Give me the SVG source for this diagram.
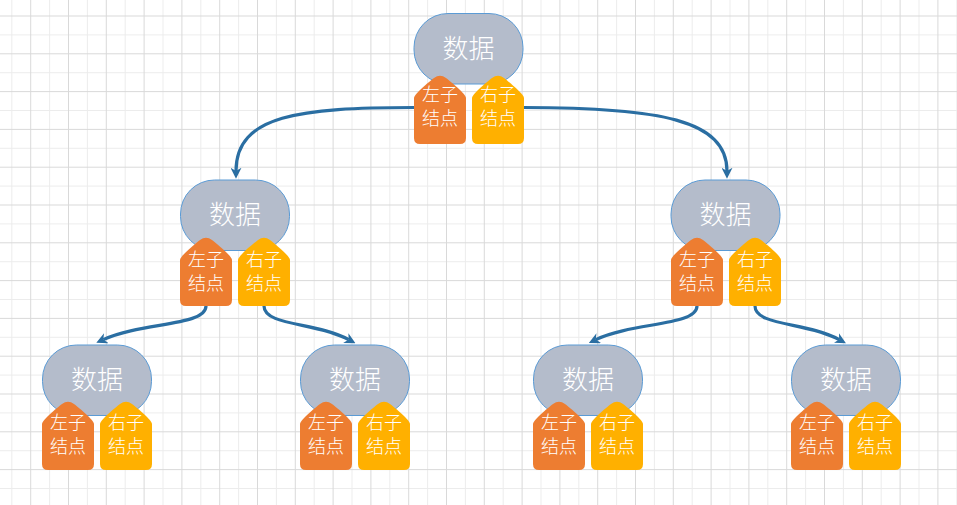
<svg xmlns="http://www.w3.org/2000/svg" xmlns:xlink="http://www.w3.org/1999/xlink" width="957" height="505" viewBox="0 0 957 505">
<style>
.pill{fill:#B4BCCB;stroke:#5B9BD5;stroke-width:1}
.lc{fill:#ED7D31}
.rc{fill:#FFB000}
.t{font-family:"Noto Sans CJK SC","Noto Sans CJK JP",sans-serif;fill:#FFFFFF;text-anchor:middle;font-weight:300}
.big{font-size:26px}
.sm{font-size:18px}
.conn{fill:none;stroke:#2A6EA2;stroke-width:3.2;marker-end:url(#arr)}
</style>
<defs>
<pattern id="grid" x="11.3" y="-3.4" width="37.8" height="37.8" patternUnits="userSpaceOnUse">
<rect x="0" y="0" width="1" height="37.8" fill="#ECECEC"/>
<rect x="0" y="0" width="37.8" height="1" fill="#ECECEC"/>
<rect x="18.9" y="0" width="1" height="37.8" fill="#D9D9D9"/>
<rect x="0" y="18.9" width="37.8" height="1" fill="#D9D9D9"/>
</pattern>
<marker id="arr" viewBox="0 0 10 10" refX="3" refY="5" markerWidth="11" markerHeight="11" orient="auto" markerUnits="userSpaceOnUse">
<path d="M0,0 L10,5 L0,10 L3,5 Z" fill="#2A6EA2"/>
</marker>
<path id="tab" d="M0 23 C0 19 15 7 20 3 Q26 -1.5 32 3 C37 7 52 19 52 23 L52 63 Q52 69 46 69 L6 69 Q0 69 0 63 Z"/>
</defs>
<rect width="957" height="505" fill="#FFFFFF"/>
<rect width="957" height="505" fill="url(#grid)"/>

<g id="connectors">
<path class="conn" d="M414 107.5 C300 107.5 236 115 236 171"/>
<path class="conn" d="M523 107.5 C660 107.5 727 120 727 171"/>
<path class="conn" d="M206 306 C206 326 142 322 103.3 339.6"/>
<path class="conn" d="M264 306 C264 326 316 322 348.7 339.6"/>
<path class="conn" d="M697 306 C697 326 633 322 595.8 339.6"/>
<path class="conn" d="M755 306 C755 326 807 322 839.2 339.6"/>
</g>

<g id="root">
<g id="root-data"><rect class="pill" x="414" y="13.5" width="109" height="70.5" rx="34" ry="34"/><text class="t big" x="468.5" y="57.5">数据</text></g>
<g id="root-left"><use xlink:href="#tab" class="lc" x="414" y="75"/><text class="t sm" x="440" y="101">左子</text><text class="t sm" x="440" y="125">结点</text></g>
<g id="root-right"><use xlink:href="#tab" class="rc" x="472" y="75"/><text class="t sm" x="498" y="101">右子</text><text class="t sm" x="498" y="125">结点</text></g>
</g>

<g id="l2a">
<g id="l2a-data"><rect class="pill" x="180.5" y="180" width="109" height="70.5" rx="34" ry="34"/><text class="t big" x="235" y="224">数据</text></g>
<g id="l2a-left"><use xlink:href="#tab" class="lc" x="180" y="237"/><text class="t sm" x="206" y="266">左子</text><text class="t sm" x="206" y="290">结点</text></g>
<g id="l2a-right"><use xlink:href="#tab" class="rc" x="238" y="237"/><text class="t sm" x="264" y="266">右子</text><text class="t sm" x="264" y="290">结点</text></g>
</g>

<g id="l2b">
<g id="l2b-data"><rect class="pill" x="671" y="180" width="109" height="70.5" rx="34" ry="34"/><text class="t big" x="725.5" y="224">数据</text></g>
<g id="l2b-left"><use xlink:href="#tab" class="lc" x="671" y="237"/><text class="t sm" x="697" y="266">左子</text><text class="t sm" x="697" y="290">结点</text></g>
<g id="l2b-right"><use xlink:href="#tab" class="rc" x="729" y="237"/><text class="t sm" x="755" y="266">右子</text><text class="t sm" x="755" y="290">结点</text></g>
</g>

<g id="l3a">
<g id="l3a-data"><rect class="pill" x="42.5" y="345" width="109" height="70.5" rx="34" ry="34"/><text class="t big" x="97" y="389">数据</text></g>
<g id="l3a-left"><use xlink:href="#tab" class="lc" x="42" y="401"/><text class="t sm" x="68" y="429">左子</text><text class="t sm" x="68" y="453">结点</text></g>
<g id="l3a-right"><use xlink:href="#tab" class="rc" x="100" y="401"/><text class="t sm" x="126" y="429">右子</text><text class="t sm" x="126" y="453">结点</text></g>
</g>

<g id="l3b">
<g id="l3b-data"><rect class="pill" x="300.5" y="345" width="109" height="70.5" rx="34" ry="34"/><text class="t big" x="355" y="389">数据</text></g>
<g id="l3b-left"><use xlink:href="#tab" class="lc" x="300" y="401"/><text class="t sm" x="326" y="429">左子</text><text class="t sm" x="326" y="453">结点</text></g>
<g id="l3b-right"><use xlink:href="#tab" class="rc" x="358" y="401"/><text class="t sm" x="384" y="429">右子</text><text class="t sm" x="384" y="453">结点</text></g>
</g>

<g id="l3c">
<g id="l3c-data"><rect class="pill" x="533.5" y="345" width="109" height="70.5" rx="34" ry="34"/><text class="t big" x="588" y="389">数据</text></g>
<g id="l3c-left"><use xlink:href="#tab" class="lc" x="533" y="401"/><text class="t sm" x="559" y="429">左子</text><text class="t sm" x="559" y="453">结点</text></g>
<g id="l3c-right"><use xlink:href="#tab" class="rc" x="591" y="401"/><text class="t sm" x="617" y="429">右子</text><text class="t sm" x="617" y="453">结点</text></g>
</g>

<g id="l3d">
<g id="l3d-data"><rect class="pill" x="791.5" y="345" width="109" height="70.5" rx="34" ry="34"/><text class="t big" x="846" y="389">数据</text></g>
<g id="l3d-left"><use xlink:href="#tab" class="lc" x="791" y="401"/><text class="t sm" x="817" y="429">左子</text><text class="t sm" x="817" y="453">结点</text></g>
<g id="l3d-right"><use xlink:href="#tab" class="rc" x="849" y="401"/><text class="t sm" x="875" y="429">右子</text><text class="t sm" x="875" y="453">结点</text></g>
</g>
</svg>
